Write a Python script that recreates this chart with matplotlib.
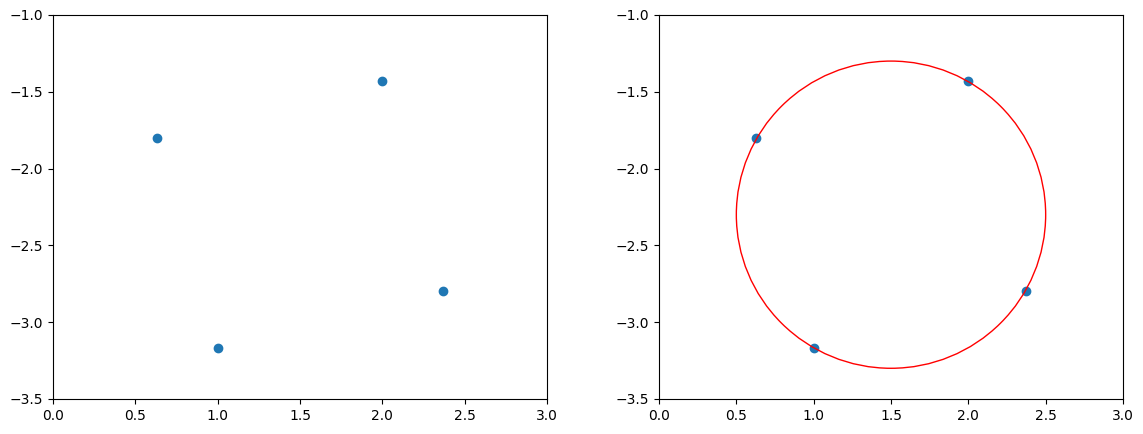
import matplotlib.pyplot as plt

# points
x = [0.63, 1.0, 2.0, 2.37]
y = [-1.8, -3.17, -1.43, -2.8]

# fitted circle
center = (1.5, -2.3)
radius = 1.0

fig = plt.figure(figsize=(11.43, 4.34), dpi=100)
ax1 = fig.add_axes([53 / 1143, 35 / 434, 494 / 1143, 384 / 434])
ax2 = fig.add_axes([659 / 1143, 35 / 434, 464 / 1143, 384 / 434])

ax1.scatter(x, y)
ax1.set_xlim(0, 3)
ax1.set_ylim(-3.5, -1)

ax2.scatter(x, y)
circ = plt.Circle(center, radius, fill=False, color='red')
ax2.add_patch(circ)
ax2.set_xlim(0, 3)
ax2.set_ylim(-3.5, -1)

fig.savefig('out.png', dpi=100)
